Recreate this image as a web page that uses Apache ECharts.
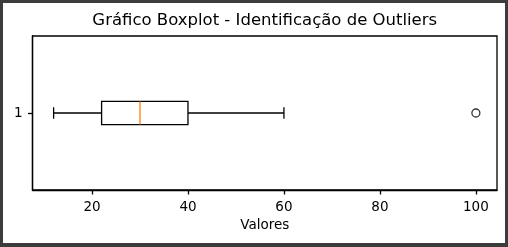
<!DOCTYPE html>
<html>
<head>
<meta charset="utf-8">
<script src="https://cdn.jsdelivr.net/npm/echarts@6/dist/echarts.min.js"></script>
<style>
  html, body { margin: 0; padding: 0; background: #3c3c3c; width: 508px; height: 247px; overflow: hidden; }
  #chart { position: absolute; left: 3px; top: 3px; width: 502px; height: 240px; background: #fff; }
</style>
</head>
<body>
<div id="chart"></div>
<script>
const titleText = 'Gráfico Boxplot - Identificação de Outliers';
const xAxisName = 'Valores';
const categories = ['1'];
const whiskerLow = [12];
const q1 = [22];
const median = [30];
const q3 = [40];
const whiskerHigh = [60];
const outliers = [[100, 0]];
const xTicks = [20, 40, 60, 80, 100];

const boxData = categories.map((c, i) => [i, whiskerLow[i], q1[i], median[i], q3[i], whiskerHigh[i]]);

const FONT = 'DejaVu Sans';
const LW = 1.3;

const chart = echarts.init(document.getElementById('chart'), null, { renderer: 'canvas' });
chart.setOption({
  animation: false,
  backgroundColor: '#fff',
  graphic: [{
    type: 'text',
    x: 261.75,
    y: 9.5,
    style: {
      text: titleText,
      fontFamily: FONT,
      fontSize: 16.5,
      fill: '#000',
      textAlign: 'center',
      textVerticalAlign: 'top'
    }
  }],
  grid: {
    left: 29.5, right: 8, top: 33, bottom: 53,
    show: true, borderColor: '#000', borderWidth: LW, backgroundColor: 'transparent'
  },
  xAxis: {
    type: 'value',
    min: 7.6,
    max: 104.4,
    name: xAxisName,
    nameLocation: 'middle',
    nameGap: 27.5,
    nameTextStyle: { fontFamily: FONT, fontSize: 13.5, color: '#000' },
    axisLine: { show: true, lineStyle: { color: '#000', width: LW } },
    axisTick: { show: true, length: 4.5, lineStyle: { color: '#000', width: LW }, customValues: xTicks },
    axisLabel: { fontFamily: FONT, fontSize: 13.5, color: '#000', margin: 10, customValues: xTicks },
    splitLine: { show: false }
  },
  yAxis: {
    type: 'category',
    data: categories,
    axisLine: { show: true, lineStyle: { color: '#000', width: LW } },
    axisTick: { show: true, length: 4.5, alignWithLabel: true, lineStyle: { color: '#000', width: LW } },
    axisLabel: { fontFamily: FONT, fontSize: 13.5, color: '#000', margin: 10 },
    splitLine: { show: false }
  },
  series: [
    {
      type: 'custom',
      data: boxData,
      encode: { x: [1, 2, 3, 4, 5], y: 0 },
      renderItem: function (params, api) {
        const cat = api.value(0);
        const pMin = api.coord([api.value(1), cat]);
        const pQ1 = api.coord([api.value(2), cat]);
        const pMed = api.coord([api.value(3), cat]);
        const pQ3 = api.coord([api.value(4), cat]);
        const pMax = api.coord([api.value(5), cat]);
        const band = api.size([0, 1])[1];
        const half = band * 0.15 / 2;
        const cap = half / 2;
        const cy = pQ1[1];
        const stroke = { stroke: '#000', lineWidth: LW, fill: null };
        return {
          type: 'group',
          children: [
            { type: 'line', shape: { x1: pMin[0], y1: cy, x2: pQ1[0], y2: cy }, style: stroke },
            { type: 'line', shape: { x1: pQ3[0], y1: cy, x2: pMax[0], y2: cy }, style: stroke },
            { type: 'line', shape: { x1: pMin[0], y1: cy - cap, x2: pMin[0], y2: cy + cap }, style: stroke },
            { type: 'line', shape: { x1: pMax[0], y1: cy - cap, x2: pMax[0], y2: cy + cap }, style: stroke },
            { type: 'rect', shape: { x: pQ1[0], y: cy - half, width: pQ3[0] - pQ1[0], height: half * 2 }, style: { stroke: '#000', lineWidth: LW, fill: '#fff' } },
            { type: 'line', shape: { x1: pMed[0], y1: cy - half, x2: pMed[0], y2: cy + half }, style: { stroke: '#ff7f0e', lineWidth: LW } }
          ]
        };
      }
    },
    {
      type: 'scatter',
      data: outliers,
      symbol: 'circle',
      symbolSize: 8,
      itemStyle: { color: '#fff', borderColor: '#000', borderWidth: LW }
    }
  ]
});
</script>
</body>
</html>
